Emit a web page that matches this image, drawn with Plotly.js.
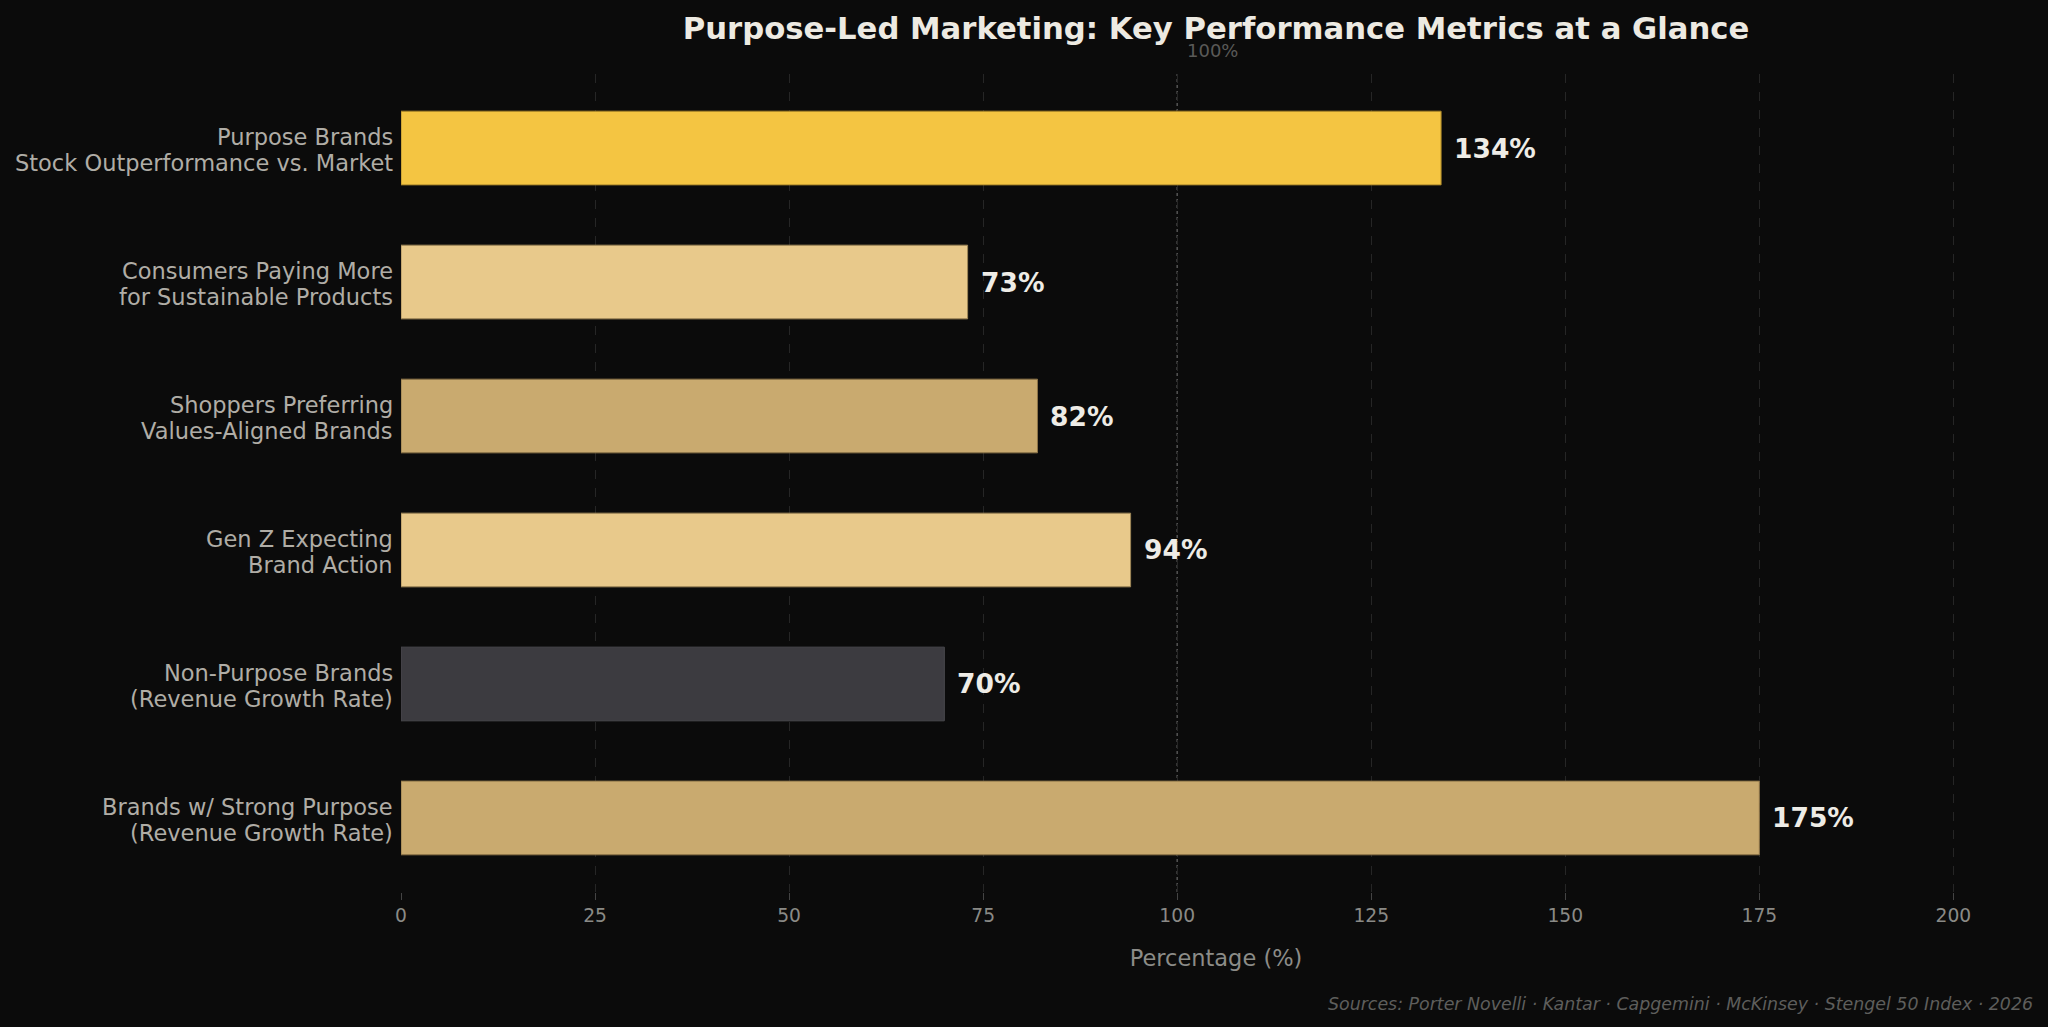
<!DOCTYPE html>
<html>
<head>
<meta charset="utf-8">
<script src="https://cdn.plot.ly/plotly-3.0.1.min.js"></script>
<style>
  html, body { margin: 0; padding: 0; background: #0b0b0b; }
  #chart { width: 2048px; height: 1027px; }
</style>
</head>
<body>
<div id="chart"></div>
<script>
// Metrics, listed bottom to top
const categories = [
  "Brands w/ Strong Purpose<br>(Revenue Growth Rate)",
  "Non-Purpose Brands<br>(Revenue Growth Rate)",
  "Gen Z Expecting<br>Brand Action",
  "Shoppers Preferring<br>Values-Aligned Brands",
  "Consumers Paying More<br>for Sustainable Products",
  "Purpose Brands<br>Stock Outperformance vs. Market"
];
const values = [175, 70, 94, 82, 73, 134];
const barColors = ["#C9AA6F", "#3C3B40", "#E8C98B", "#C9AA6F", "#E8C98B", "#F4C542"];
const edgeColors = ["#8C7448", "#4A494E", "#9E8657", "#8C7448", "#9E8657", "#A8862A"];
const xTicks = [0, 25, 50, 75, 100, 125, 150, 175, 200];
const referenceValue = 100;

const font = "DejaVu Sans, Verdana, sans-serif";
const lineGap = 26; // px between the two lines of a category label

const trace = {
  type: "bar",
  orientation: "h",
  y: categories,
  x: values,
  width: 0.55,
  marker: { color: barColors, line: { color: edgeColors, width: 1 } },
  hoverinfo: "skip"
};

const valueLabels = values.map((v, i) => ({
  x: v, y: categories[i], xref: "x", yref: "y",
  text: v + "%",
  showarrow: false, xanchor: "left", yanchor: "middle", xshift: 11,
  font: { family: font, size: 26.5, color: "#EEECE6", weight: "bold" }
}));

// Category labels, one text per line for tighter line spacing
const categoryLabels = [];
categories.forEach(c => {
  const lines = c.split("<br>");
  lines.forEach((line, k) => {
    categoryLabels.push({
      x: 0, xref: "paper", y: c, yref: "y",
      text: line, showarrow: false, xanchor: "right", yanchor: "middle",
      xshift: -6, yshift: ((lines.length - 1) / 2 - k) * lineGap - 2,
      font: { family: font, size: 22.5, color: "#B0ADA6" }
    });
  });
});

const layout = {
  width: 2048, height: 1027,
  paper_bgcolor: "#0b0b0b",
  plot_bgcolor: "#0b0b0b",
  margin: { l: 401, r: 17, t: 74, b: 135 },
  showlegend: false,
  title: {
    text: "<b>Purpose-Led Marketing: Key Performance Metrics at a Glance</b>",
    font: { family: font, size: 30.7, color: "#EDEAE2" },
    x: 0.5, xref: "paper", xanchor: "center",
    y: 1 - 28 / 1027, yref: "container", yanchor: "middle"
  },
  xaxis: {
    range: [0, 210],
    tickvals: xTicks,
    ticktext: xTicks.map(String),
    ticks: "outside", ticklen: 7, tickwidth: 1, tickcolor: "#444444",
    tickfont: { family: font, size: 18.7, color: "#8A8A86" },
    showgrid: true, gridcolor: "#262626", gridwidth: 1, griddash: "dash",
    zeroline: false, showline: false,
    title: {
      text: "Percentage (%)",
      font: { family: font, size: 22.5, color: "#8C8C88" },
      standoff: 24
    }
  },
  yaxis: {
    type: "category",
    categoryorder: "array",
    categoryarray: categories,
    range: [-0.5525, 5.5525],
    showgrid: false, zeroline: false, showline: false,
    ticks: "", showticklabels: false
  },
  shapes: [{
    type: "line", xref: "x", yref: "paper",
    x0: referenceValue, x1: referenceValue, y0: 0, y1: 1,
    line: { color: "#555555", width: 1.5, dash: "dot" },
    layer: "below"
  }],
  annotations: valueLabels.concat(categoryLabels, [
    {
      x: referenceValue, xref: "x", y: 1 + 24 / 818, yref: "paper",
      text: "100%", showarrow: false, xanchor: "left", yanchor: "middle", xshift: 8,
      font: { family: font, size: 18, color: "#5A5A58" }
    },
    {
      x: 1, xref: "paper", y: -112 / 818, yref: "paper",
      text: "Sources: Porter Novelli · Kantar · Capgemini · McKinsey · Stengel 50 Index · 2026",
      showarrow: false, xanchor: "right", yanchor: "middle", xshift: 4,
      font: { family: font, size: 17.4, color: "#5E5E5C", style: "italic" }
    }
  ])
};

Plotly.newPlot("chart", [trace], layout, { displayModeBar: false, staticPlot: true });
</script>
</body>
</html>
